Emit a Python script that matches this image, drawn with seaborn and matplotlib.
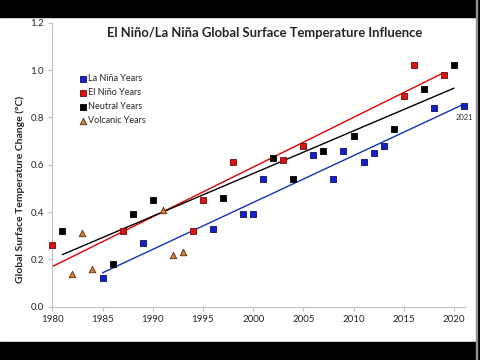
import pandas as pd
import seaborn as sns
import matplotlib.pyplot as plt
from matplotlib.patches import Rectangle

# values
la_nina_years = [1985, 1989, 1996, 1999, 2000, 2001, 2006, 2008, 2009, 2011, 2012, 2013, 2018, 2021]
la_nina_temp = [0.12, 0.27, 0.33, 0.39, 0.39, 0.54, 0.64, 0.54, 0.66, 0.61, 0.65, 0.68, 0.84, 0.85]
el_nino_years = [1980, 1987, 1994, 1995, 1998, 2003, 2005, 2015, 2016, 2019]
el_nino_temp = [0.26, 0.32, 0.32, 0.45, 0.61, 0.62, 0.68, 0.89, 1.02, 0.98]
neutral_years = [1981, 1986, 1988, 1990, 1997, 2002, 2004, 2007, 2010, 2014, 2017, 2020]
neutral_temp = [0.32, 0.18, 0.39, 0.45, 0.46, 0.63, 0.54, 0.66, 0.72, 0.75, 0.92, 1.02]
volcanic_years = [1982, 1983, 1984, 1991, 1992, 1993]
volcanic_temp = [0.14, 0.31, 0.16, 0.41, 0.22, 0.23]

groups = ['La Niña Years', 'El Niño Years', 'Neutral Years', 'Volcanic Years']
df = pd.concat([
    pd.DataFrame({'Year': la_nina_years, 'Temp': la_nina_temp, 'Type': groups[0]}),
    pd.DataFrame({'Year': el_nino_years, 'Temp': el_nino_temp, 'Type': groups[1]}),
    pd.DataFrame({'Year': neutral_years, 'Temp': neutral_temp, 'Type': groups[2]}),
    pd.DataFrame({'Year': volcanic_years, 'Temp': volcanic_temp, 'Type': groups[3]}),
])

fill = {groups[0]: '#1420c8', groups[1]: '#dc1414', groups[2]: 'black', groups[3]: '#d2803a'}
edge = {groups[0]: '#0a0f60', groups[1]: '#6e0a0a', groups[2]: 'black', groups[3]: '#5a2a08'}
line = {groups[0]: '#1430b4', groups[1]: '#e00000', groups[2]: 'black'}
marker = {groups[0]: 's', groups[1]: 's', groups[2]: 's', groups[3]: '^'}
size = {groups[0]: 15, groups[1]: 15, groups[2]: 15, groups[3]: 22}

sns.set_style('ticks')
plt.rcParams['font.family'] = ['Lato', 'DejaVu Sans']

fig = plt.figure(figsize=(4.8, 3.6), dpi=100)
ax = fig.add_axes([52.3 / 480, 53.3 / 360, 412.7 / 480, 284 / 360])

# trend lines for the three ENSO groups
for g in groups[:3]:
    sns.regplot(data=df[df['Type'] == g], x='Year', y='Temp', scatter=False, ci=None,
                color=line[g], line_kws={'lw': 1}, ax=ax)

for g in groups:
    sns.scatterplot(data=df[df['Type'] == g], x='Year', y='Temp', color=fill[g],
                    edgecolor=edge[g], linewidth=0.6, marker=marker[g], s=size[g],
                    label=g, zorder=3, clip_on=False, ax=ax)

ax.set_xlim(1980, 2021.1)
ax.set_ylim(0, 1.2)
ax.set_xticks(range(1980, 2021, 5))
ax.set_yticks([0, 0.2, 0.4, 0.6, 0.8, 1.0, 1.2])
ax.set_yticklabels(['0.0', '0.2', '0.4', '0.6', '0.8', '1.0', '1.2'])
ax.set_xlabel('')
ax.set_ylabel('')
sns.despine(ax=ax)
for s in ['left', 'bottom']:
    ax.spines[s].set_color('#bfbfbf')
    ax.spines[s].set_linewidth(0.8)
ax.tick_params(axis='both', direction='out', length=3, width=0.8, color='#bfbfbf',
               labelsize=7, pad=3)

ax.text(2021, 0.80, '2021', fontsize=5.5, ha='center', va='center', color='#333333')

ax.legend(loc='upper left', bbox_to_anchor=(78 / 480, 1 - 74 / 360), bbox_transform=fig.transFigure,
          frameon=False, fontsize=6.5, handletextpad=0.1, labelspacing=0.55, borderpad=0,
          handlelength=1.0, borderaxespad=0)

fig.text(265 / 480, 1 - 33 / 360, 'El Niño/La Niña Global Surface Temperature Influence',
         ha='center', va='center', fontsize=9.4, fontweight='bold')
fig.text(20 / 480, 1 - 189 / 360, 'Global Surface Temperature Change (°C)', rotation=90,
         ha='center', va='center', fontsize=7.5, fontweight='bold')

# letterbox bars
fig.add_artist(Rectangle((0, 1 - 17 / 360), 1, 17 / 360, transform=fig.transFigure, color='black'))
fig.add_artist(Rectangle((0, 0), 1, 18 / 360, transform=fig.transFigure, color='black'))
fig.add_artist(Rectangle((477 / 480, 0), 3 / 480, 1, transform=fig.transFigure, color='black'))
fig.add_artist(Rectangle((476 / 480, 0), 1.2 / 480, 1, transform=fig.transFigure, color='#909090'))

fig.savefig('out.png', dpi=100)
